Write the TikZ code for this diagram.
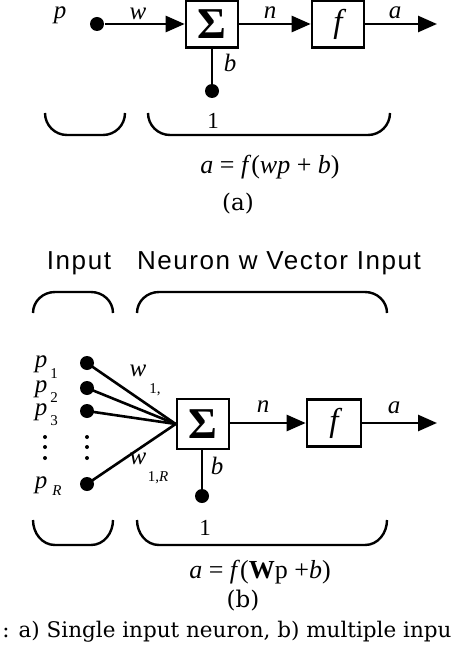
\documentclass[tikz,border=0pt]{standalone}
\usepackage{fontspec}
\setmainfont{Liberation Serif}
\setsansfont{Liberation Sans}
\newfontfamily\ttlfont[LetterSpace=6]{Liberation Sans}
\newfontfamily\capfont{DejaVu Serif}
\usetikzlibrary{arrows.meta}
\begin{document}
\begin{tikzpicture}[x=1pt,y=-1pt, line width=2.6pt,
 arr/.style={-{Triangle[length=19pt,width=16pt]}},
 blk/.style={draw, line width=2.6pt, minimum width=52pt, minimum height=47pt, inner sep=0pt},
 dotn/.style={circle, fill, inner sep=0pt, minimum size=14pt},
 sdot/.style={circle, fill, inner sep=0pt, minimum size=4pt},
 lab/.style={font=\fontsize{25}{25}\selectfont\itshape, inner sep=0pt},
 subtxt/.style={font=\fontsize{15}{15}\selectfont, inner sep=0pt},
 num/.style={font=\fontsize{23}{23}\selectfont, inner sep=0pt},
 sig/.style={font=\fontsize{44}{44}\selectfont\bfseries},
 fn/.style={font=\fontsize{33}{33}\selectfont\itshape},
 frm/.style={font=\fontsize{26}{26}\selectfont, inner sep=0pt},
 captxt/.style={font=\fontsize{23}{23}\selectfont\capfont, inner sep=0pt},
 ttl/.style={font=\fontsize{26}{26}\selectfont\ttlfont, inner sep=0pt},
 brc/.style={line width=2.4pt}
]
\useasboundingbox (0,0) rectangle (474,647);
% ---------- (a) ----------
\node[dotn] (pa) at (97,24) {};
\node[blk,sig] (sa) at (212,24) {Σ};
\node[blk,fn] (fa) at (338,24) {f};
\coordinate (oa) at (437,24);
\draw[arr] (pa) -- (sa.west);
\draw[arr] (sa.east) -- (fa.west);
\draw[arr] (fa.east) -- (oa);
\node[dotn] (ba) at (212,91) {};
\draw (sa.south) -- (ba.center);
\node[lab] (lpa) at (60,15) {p};
\node[lab] (lwa) at (138,14) {w};
\node[lab] (lna) at (270,13) {n};
\node[lab] (laa) at (395,13) {a};
\node[lab] (lba) at (230,63) {b};
\node[num] (l1a) at (213,121) {1};
\draw[brc] (45,113) to[out=-90,in=180] (67,135) -- (103,135) to[out=0,in=-90] (125,113);
\draw[brc] (148,113) to[out=-90,in=180] (170,135) -- (368,135) to[out=0,in=-90] (390,113);
\node[frm] (fma) at (270,167) {\textit{a} = \textit{f}(\textit{wp} + \textit{b})};
\node[captxt] (tla) at (238,204) {(a)};
% ---------- (b) ----------
\node[ttl] (ti1) at (79,263) {Input};
\node[ttl] (ti2) at (279,263) {Neuron w Vector Input};
\draw[brc] (33,313) to[out=90,in=180] (55,292) -- (91,292) to[out=0,in=90] (113,313);
\draw[brc] (137,313) to[out=90,in=180] (159,292) -- (365,292) to[out=0,in=90] (387,313);
\node[blk,sig,minimum height=50pt] (sb) at (203,424) {Σ};
\node[blk,fn,minimum width=54pt] (fb) at (334,423) {f};
\coordinate (ob) at (437,423);
\node[dotn] (p1) at (87,363) {};
\node[dotn] (p2) at (87,388) {};
\node[dotn] (p3) at (87,411) {};
\node[dotn] (pR) at (87,484) {};
\foreach \n in {p1,p2,p3,pR} \draw (\n.center) -- (sb.west);
\draw[arr] (sb.east |- fb.west) -- (fb.west);
\draw[arr] (fb.east) -- (ob);
\node[dotn] (bb) at (202,496) {};
\draw (sb.south -| bb) -- (bb.center);
\foreach \y [count=\i] in {437,447,458} {
  \node[sdot] (da\i) at (87,\y) {};
  \node[sdot] (db\i) at (45,\y) {};
}
\node[lab] (lp1) at (41,364) {p};
\node[subtxt] (ls1) at (54,374) {1};
\node[lab] (lp2) at (41,389) {p};
\node[subtxt] (ls2) at (54,398) {2};
\node[lab] (lp3) at (41,412) {p};
\node[subtxt] (ls3) at (54,421) {3};
\node[lab] (lpR) at (41,485) {p};
\node[subtxt,font=\fontsize{15}{15}\selectfont\itshape] (lsR) at (57,491) {R};
\node[lab] (lw1) at (138,371) {w};
\node[subtxt] (lw1s) at (155,390) {1,};
\node[lab] (lwR) at (138,459) {w};
\node[subtxt] (lwRs) at (158,478) {1,\textit{R}};
\node[lab] (lnb) at (263,407) {n};
\node[lab] (lab) at (394,408) {a};
\node[lab] (lbb) at (217,466) {b};
\node[num] (l1b) at (205,528) {1};
\draw[brc] (33,520) to[out=-90,in=180] (55,545) -- (91,545) to[out=0,in=-90] (113,520);
\draw[brc] (137,520) to[out=-90,in=180] (159,545) -- (365,545) to[out=0,in=-90] (387,520);
\node[frm] (fmb) at (260,572) {\textit{a} = \textit{f}(\textbf{W}p +\textit{b})};
\node[captxt] (tlb) at (243,601) {(b)};
\node[captxt,font=\fontsize{21.5}{21.5}\selectfont\capfont,anchor=west] (capt) at (1,632) {: a) Single input neuron, b) multiple inpu};
\end{tikzpicture}
\end{document}
